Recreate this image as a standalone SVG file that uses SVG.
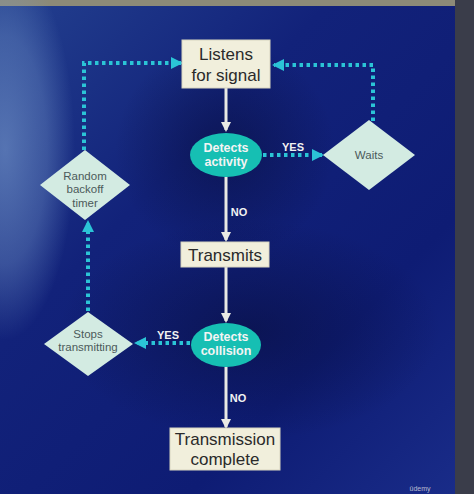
<svg xmlns="http://www.w3.org/2000/svg" width="474" height="494" viewBox="0 0 474 494">
<defs>
<linearGradient id="bg" x1="0" y1="0" x2="1" y2="1">
<stop offset="0" stop-color="#23408f"/>
<stop offset="0.35" stop-color="#12227a"/>
<stop offset="0.7" stop-color="#0e1c74"/>
<stop offset="1" stop-color="#1a2d8a"/>
</linearGradient>
<radialGradient id="refl" cx="0.5" cy="0.5" r="0.5">
<stop offset="0" stop-color="#7c9fd0" stop-opacity="0.6"/>
<stop offset="0.6" stop-color="#7c9fd0" stop-opacity="0.35"/>
<stop offset="1" stop-color="#7c9fd0" stop-opacity="0"/>
</radialGradient>
<radialGradient id="shadow" cx="0.5" cy="0.5" r="0.5">
<stop offset="0" stop-color="#080d3a" stop-opacity="0.55"/>
<stop offset="1" stop-color="#080d3a" stop-opacity="0"/>
</radialGradient>
<marker id="wa" markerWidth="10" markerHeight="10" refX="8" refY="5" orient="auto" markerUnits="userSpaceOnUse">
<path d="M0,0 L10,5 L0,10 Z" fill="#e9e9e4"/>
</marker>
<marker id="ca" markerWidth="12" markerHeight="12" refX="10" refY="6" orient="auto" markerUnits="userSpaceOnUse">
<path d="M0,0 L12,6 L0,12 Z" fill="#2bc4d6"/>
</marker>
</defs>
<style>
.box{fill:#f1efdc;stroke:#d8d5c0;stroke-width:1}
.dia{fill:#d3ebe2}
.ell{fill:#16bfb3}
.btxt{font-family:"Liberation Sans",Arial,sans-serif;font-size:17px;fill:#2a2a2a;text-anchor:middle}
.dtxt{font-family:"Liberation Sans",Arial,sans-serif;font-size:11.5px;fill:#4c5a5a;text-anchor:middle}
.etxt{font-family:"Liberation Sans",Arial,sans-serif;font-size:12.5px;font-weight:bold;fill:#f4f4f4;text-anchor:middle}
.lbl{font-family:"Liberation Sans",Arial,sans-serif;font-size:11px;font-weight:bold;fill:#f2f2f2;text-anchor:middle}
.solid{stroke:#e9e9e4;stroke-width:3;fill:none}
.dot{stroke:#2bc4d6;stroke-width:4;fill:none;stroke-dasharray:3.5 3.5}
</style>
<rect width="474" height="494" fill="url(#bg)"/>
<rect x="0" y="0" width="474" height="6" fill="#8c8a78"/>
<rect x="455" y="0" width="19" height="494" fill="#3a3d4a"/>
<ellipse cx="5" cy="150" rx="70" ry="190" fill="url(#refl)"/>
<ellipse cx="225" cy="150" rx="110" ry="110" fill="url(#shadow)"/>
<ellipse cx="250" cy="330" rx="190" ry="110" fill="url(#shadow)"/>

<g id="connectors">
<line class="solid" x1="226" y1="88" x2="226" y2="130" marker-end="url(#wa)"/>
<line class="solid" x1="226" y1="177" x2="226" y2="240" marker-end="url(#wa)"/>
<line class="solid" x1="226" y1="267" x2="226" y2="321" marker-end="url(#wa)"/>
<line class="solid" x1="226" y1="367" x2="226" y2="427" marker-end="url(#wa)"/>
<line class="dot" x1="263" y1="155" x2="322" y2="155" marker-end="url(#ca)"/>
<polyline class="dot" points="373,121 373,65 274,65" marker-end="url(#ca)"/>
<polyline class="dot" points="84,150 84,63 181,63" marker-end="url(#ca)"/>
<line class="dot" x1="190" y1="343" x2="136" y2="343" marker-end="url(#ca)"/>
<line class="dot" x1="88" y1="311" x2="88" y2="222" marker-end="url(#ca)"/>
<text class="lbl" x="293" y="151">YES</text>
<text class="lbl" x="239" y="216">NO</text>
<text class="lbl" x="168" y="339">YES</text>
<text class="lbl" x="238" y="402">NO</text>
</g>

<g id="listens">
<rect class="box" x="182" y="40" width="88" height="48"/>
<text class="btxt" x="226" y="60">Listens</text>
<text class="btxt" x="226" y="81">for signal</text>
</g>
<g id="detects-activity">
<ellipse class="ell" cx="226" cy="155" rx="36" ry="22"/>
<text class="etxt" x="226" y="152">Detects</text>
<text class="etxt" x="226" y="166">activity</text>
</g>
<g id="waits">
<polygon class="dia" points="369,120 415,155 369,190 323,155"/>
<text class="dtxt" x="369" y="159">Waits</text>
</g>
<g id="random-backoff">
<polygon class="dia" points="85,150 130,185 85,220 40,185"/>
<text class="dtxt" x="85" y="180">Random</text>
<text class="dtxt" x="85" y="193">backoff</text>
<text class="dtxt" x="85" y="207">timer</text>
</g>
<g id="transmits">
<rect class="box" x="181" y="242" width="88" height="25"/>
<text class="btxt" x="225" y="261">Transmits</text>
</g>
<g id="detects-collision">
<ellipse class="ell" cx="226" cy="345" rx="35" ry="22"/>
<text class="etxt" x="226" y="341">Detects</text>
<text class="etxt" x="226" y="355">collision</text>
</g>
<g id="stops">
<polygon class="dia" points="88,312 133,344 88,376 44,344"/>
<text class="dtxt" x="88" y="338">Stops</text>
<text class="dtxt" x="88" y="351">transmitting</text>
</g>
<g id="complete">
<rect class="box" x="170" y="428" width="110" height="42"/>
<text class="btxt" x="225" y="445">Transmission</text>
<text class="btxt" x="225" y="465">complete</text>
</g>
<text x="420" y="491" font-family="Liberation Sans, Arial, sans-serif" font-size="7" fill="#b8bcd0" text-anchor="middle">ûdemy</text>
</svg>
